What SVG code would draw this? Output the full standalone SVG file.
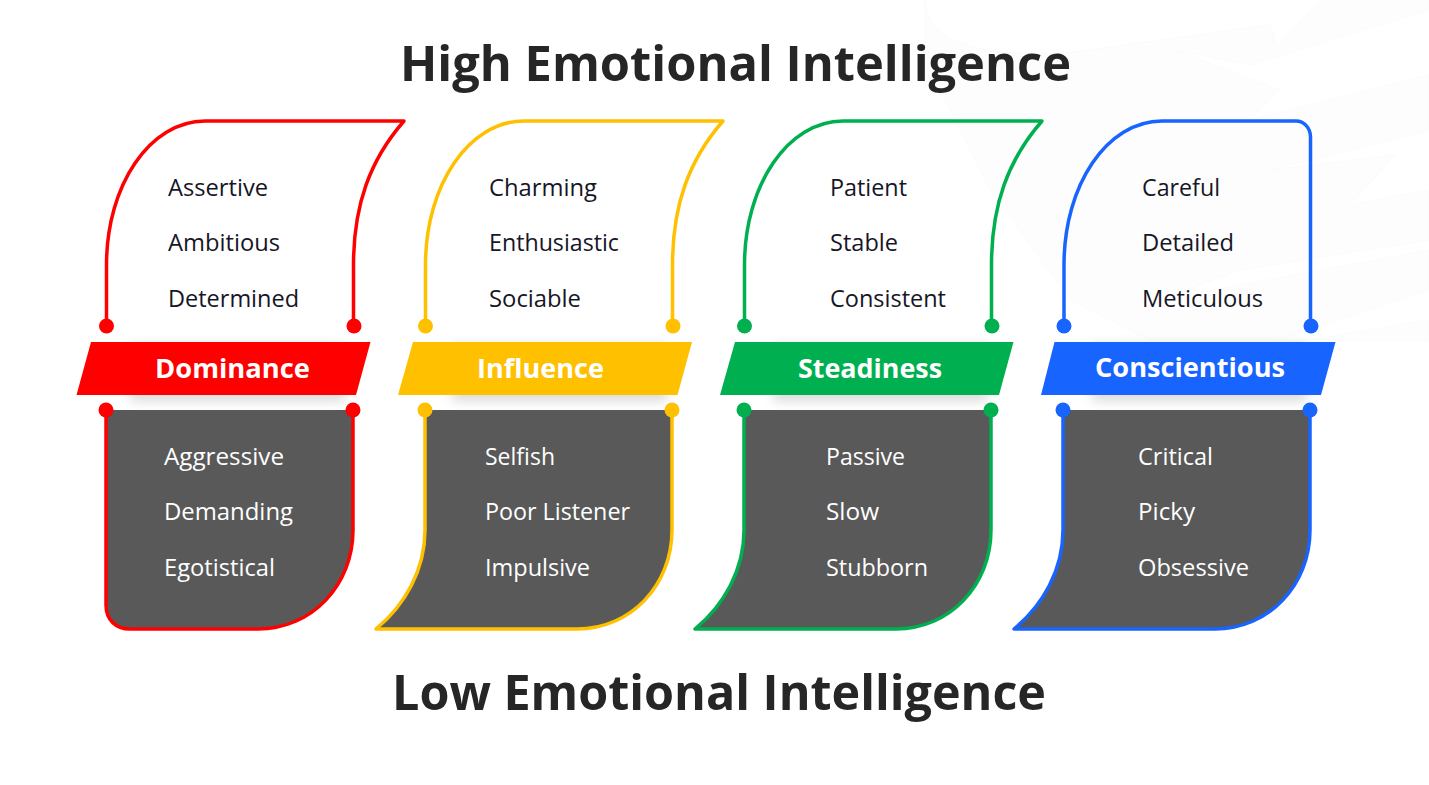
<svg xmlns="http://www.w3.org/2000/svg" width="1429" height="785" viewBox="0 0 1429 785">
<style>
text{font-family:"Open Sans","Noto Sans","Liberation Sans",sans-serif}
.title{font-size:49px;font-weight:700;fill:#262626}
.hi{font-size:24px;fill:#161626}
.lo{font-size:24px;fill:#fff}
.lab{font-size:27px;font-weight:700;fill:#fff;text-anchor:start}
.top{fill:none;stroke-width:3.5;stroke-linejoin:round}
.fillb{fill:#595959}
.bot{fill:none;stroke-width:3.5;stroke-linejoin:round}
.wm{fill:#fdfdfd;stroke:#fbfbfb;stroke-width:1;stroke-linejoin:round}
.r{fill:#f00}.y{fill:#ffc000}.g{fill:#00b050}.b{fill:#1764ff}
.rs{stroke:#f00}.ys{stroke:#ffc000}.gs{stroke:#00b050}.bs{stroke:#1764ff}
.sh{fill:#000;opacity:.14;filter:url(#blur)}
</style>
<defs><filter id="blur" x="-20%" y="-150%" width="140%" height="400%"><feGaussianBlur stdDeviation="6"/></filter></defs>
<rect width="1429" height="785" fill="#fff"/>
<g id="watermark">
<path class="wm" d="M925 0C925 40 980 60 1075 52L1270 25L1277 46L1320 0H1429V10L1250 65L1176 50L1280 90L1250 120L1429 75V130L1270 170L1395 155L1350 205L1429 190V240L1240 270L1160 300L1429 250V290L1250 350L1429 320V340L1150 340L1070 300L990 190L955 120L925 60Z"/>
</g>
<text class="title" x="400" y="81" textLength="671" lengthAdjust="spacingAndGlyphs">High Emotional Intelligence</text>
<text class="title" x="392" y="710" textLength="654" lengthAdjust="spacingAndGlyphs">Low Emotional Intelligence</text>
<g id="connectors"></g>

<g id="dominance">
<path class="top rs" d="M106.500 326V265C106.500 185 150 121 205 121H404C370 160 353.500 205 353.500 265V326"/>
<circle class="r" cx="106.500" cy="326" r="7.500"/><circle class="r" cx="354" cy="326" r="7.500"/>
<text class="hi" x="168" y="196" textLength="100" lengthAdjust="spacingAndGlyphs">Assertive</text>
<text class="hi" x="168" y="251" textLength="112" lengthAdjust="spacingAndGlyphs">Ambitious</text>
<text class="hi" x="168" y="307" textLength="131" lengthAdjust="spacingAndGlyphs">Determined</text>
<rect class="sh" x="130" y="345" width="215" height="56"/>
<path class="fillb" d="M106 410V605C106 620 116 629 130 629H258C312 629 353 585 353 530V410Z"/>
<path class="bot rs" d="M106 410V605C106 620 116 629 130 629H258C312 629 353 585 353 530V410"/>
<path class="r" d="M91 342H370.500L356 395H76.500Z"/>
<text class="lab" x="155" y="378" textLength="155" lengthAdjust="spacingAndGlyphs">Dominance</text>
<circle class="r" cx="106" cy="410" r="7.500"/><circle class="r" cx="353" cy="410" r="7.500"/>
<text class="lo" x="164" y="465" textLength="120" lengthAdjust="spacingAndGlyphs">Aggressive</text>
<text class="lo" x="164" y="520" textLength="129" lengthAdjust="spacingAndGlyphs">Demanding</text>
<text class="lo" x="164" y="576" textLength="111" lengthAdjust="spacingAndGlyphs">Egotistical</text>
</g>

<g id="influence">
<path class="top ys" d="M425.500 326V265C425.500 185 469 121 524 121H723C689 160 672.500 205 672.500 265V326"/>
<circle class="y" cx="425.500" cy="326" r="7.500"/><circle class="y" cx="673" cy="326" r="7.500"/>
<text class="hi" x="489" y="196" textLength="108" lengthAdjust="spacingAndGlyphs">Charming</text>
<text class="hi" x="489" y="251" textLength="130" lengthAdjust="spacingAndGlyphs">Enthusiastic</text>
<text class="hi" x="489" y="307" textLength="92" lengthAdjust="spacingAndGlyphs">Sociable</text>
<rect class="sh" x="452" y="345" width="215" height="56"/>
<path class="fillb" d="M425 410V530C425 570 405 605 376 629H577C631 629 672 585 672 530V410Z"/>
<path class="bot ys" d="M425 410V530C425 570 405 605 376 629H577C631 629 672 585 672 530V410"/>
<path class="y" d="M413 342H692L677.500 395H398Z"/>
<text class="lab" x="477" y="378" textLength="127" lengthAdjust="spacingAndGlyphs">Influence</text>
<circle class="y" cx="425" cy="410" r="7.500"/><circle class="y" cx="672" cy="410" r="7.500"/>
<text class="lo" x="485" y="465" textLength="70" lengthAdjust="spacingAndGlyphs">Selfish</text>
<text class="lo" x="485" y="520" textLength="145" lengthAdjust="spacingAndGlyphs">Poor Listener</text>
<text class="lo" x="485" y="576" textLength="105" lengthAdjust="spacingAndGlyphs">Impulsive</text>
</g>

<g id="steadiness">
<path class="top gs" d="M744.500 326V265C744.500 185 788 121 843 121H1042C1008 160 991.500 205 991.500 265V326"/>
<circle class="g" cx="744.500" cy="326" r="7.500"/><circle class="g" cx="992" cy="326" r="7.500"/>
<text class="hi" x="830" y="196" textLength="77" lengthAdjust="spacingAndGlyphs">Patient</text>
<text class="hi" x="830" y="251" textLength="68" lengthAdjust="spacingAndGlyphs">Stable</text>
<text class="hi" x="830" y="307" textLength="116" lengthAdjust="spacingAndGlyphs">Consistent</text>
<rect class="sh" x="773" y="345" width="215" height="56"/>
<path class="fillb" d="M744 410V530C744 570 724 605 695 629H896C950 629 991 585 991 530V410Z"/>
<path class="bot gs" d="M744 410V530C744 570 724 605 695 629H896C950 629 991 585 991 530V410"/>
<path class="g" d="M735 342H1013.500L999 395H720Z"/>
<text class="lab" x="798" y="378" textLength="144" lengthAdjust="spacingAndGlyphs">Steadiness</text>
<circle class="g" cx="744" cy="410" r="7.500"/><circle class="g" cx="991" cy="410" r="7.500"/>
<text class="lo" x="826" y="465" textLength="79" lengthAdjust="spacingAndGlyphs">Passive</text>
<text class="lo" x="826" y="520" textLength="53" lengthAdjust="spacingAndGlyphs">Slow</text>
<text class="lo" x="826" y="576" textLength="102" lengthAdjust="spacingAndGlyphs">Stubborn</text>
</g>

<g id="conscientious">
<path class="top bs" d="M1064 326V265C1064 185 1107 121 1162 121H1296C1304 121 1310.500 128 1310.500 137V326"/>
<circle class="b" cx="1064" cy="326" r="7.500"/><circle class="b" cx="1311" cy="326" r="7.500"/>
<text class="hi" x="1142" y="196" textLength="78" lengthAdjust="spacingAndGlyphs">Careful</text>
<text class="hi" x="1142" y="251" textLength="92" lengthAdjust="spacingAndGlyphs">Detailed</text>
<text class="hi" x="1142" y="307" textLength="121" lengthAdjust="spacingAndGlyphs">Meticulous</text>
<rect class="sh" x="1092" y="345" width="215" height="56"/>
<path class="fillb" d="M1063 410V530C1063 570 1043 605 1014 629H1215C1269 629 1310 585 1310 530V410Z"/>
<path class="bot bs" d="M1063 410V530C1063 570 1043 605 1014 629H1215C1269 629 1310 585 1310 530V410"/>
<path class="b" d="M1054.500 342H1335.500L1321 395H1041Z"/>
<text class="lab" x="1095" y="377" textLength="190" lengthAdjust="spacingAndGlyphs">Conscientious</text>
<circle class="b" cx="1063" cy="410" r="7.500"/><circle class="b" cx="1310" cy="410" r="7.500"/>
<text class="lo" x="1138" y="465" textLength="75" lengthAdjust="spacingAndGlyphs">Critical</text>
<text class="lo" x="1138" y="520" textLength="57" lengthAdjust="spacingAndGlyphs">Picky</text>
<text class="lo" x="1138" y="576" textLength="111" lengthAdjust="spacingAndGlyphs">Obsessive</text>
</g>
</svg>
